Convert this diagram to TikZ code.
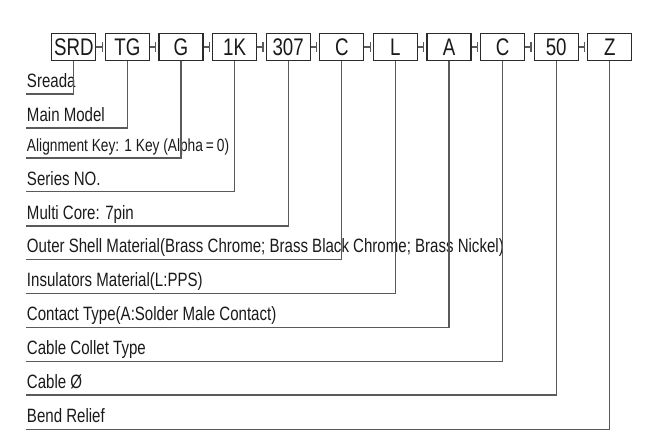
\documentclass[tikz,border=0pt]{standalone}
\usepackage{fontspec}
\newfontfamily\codefont{Liberation Sans}[FakeStretch=0.78]
\usetikzlibrary{positioning}
\definecolor{ink}{HTML}{1A1A1A}
\definecolor{wire}{HTML}{5A5A5A}
\definecolor{frame}{HTML}{2B2B2B}

\begin{document}
\begin{tikzpicture}[x=1pt, y=-1pt,
      node distance=8.5pt,
      part/.style={draw=frame, line width=1.1pt, minimum width=44pt, minimum height=27pt, inner sep=0pt,
        font=\codefont\fontsize{24}{25}\selectfont, text=ink},
      lbl/.style={anchor=south west, inner xsep=0.8pt, inner ysep=6.4pt, text depth=0pt,
        font=\codefont\fontsize{19.3}{20}\selectfont, text=ink},
      lead/.style={draw=wire, line width=1.2pt},
      link/.style={draw=wire, line width=1.2pt}]
    \useasboundingbox (0,0) rectangle (650,446);
    % code parts
    \node[part] (srd) at (73.8,47) {SRD};
    \node[part, right=of srd] (tg) {TG};
    \node[part, right=of tg] (g) {G};
    \node[part, right=of g] (k) {1K};
    \node[part, right=of k] (pin) {307};
    \node[part, right=of pin] (shell) {C};
    \node[part, right=of shell] (ins) {L};
    \node[part, right=of ins] (cont) {A};
    \node[part, right=of cont] (coll) {C};
    \node[part, right=of coll] (cab) {50};
    \node[part, right=of cab] (bend) {Z};
    % links between parts
    \foreach \a/\b in {srd/tg, tg/g, g/k, k/pin, pin/shell, shell/ins, ins/cont, cont/coll, coll/cab, cab/bend} {
      \draw[link] (\a.east) -- ([xshift=-2.6pt]\b.west) ++(0,-5.2) -- ++(0,10.4);
    }
    % meanings
    \node[lbl] (lsreada) at (26,94) {Sreada};
    \node[lbl] (lmodel) at (26,128) {Main Model};
    \node[lbl, font=\codefont\fontsize{17.6}{19}\selectfont] (lkey) at (26,158) {Alignment Key: 1 Key (Alpha\,=\,0)};
    \node[lbl] (lseries) at (26,191.7) {Series NO.};
    \node[lbl] (lcore) at (26,226) {Multi Core: 7pin};
    \node[lbl] (lshell) at (26,259.3) {Outer Shell Material(Brass Chrome; Brass Black Chrome; Brass Nickel)};
    \node[lbl] (lins) at (26,293.3) {Insulators Material(L:PPS)};
    \node[lbl] (lcont) at (26,327.3) {Contact Type(A:Solder Male Contact)};
    \node[lbl] (lcoll) at (26,361.3) {Cable Collet Type};
    \node[lbl] (lcab) at (26,395) {Cable Ø};
    \node[lbl] (lbend) at (26,429.3) {Bend Relief};
    % leaders
    \draw[lead] (srd.south) |- (lsreada.south west);
    \draw[lead] (tg.south) |- (lmodel.south west);
    \draw[lead] (g.south) |- (lkey.south west);
    \draw[lead] (k.south) |- (lseries.south west);
    \draw[lead] (pin.south) |- (lcore.south west);
    \draw[lead] (shell.south) |- (lshell.south west);
    \draw[lead] (ins.south) |- (lins.south west);
    \draw[lead] (cont.south) |- (lcont.south west);
    \draw[lead] (coll.south) |- (lcoll.south west);
    \draw[lead] (cab.south) |- (lcab.south west);
    \draw[lead] (bend.south) |- (lbend.south west);
  \end{tikzpicture}
\end{document}
